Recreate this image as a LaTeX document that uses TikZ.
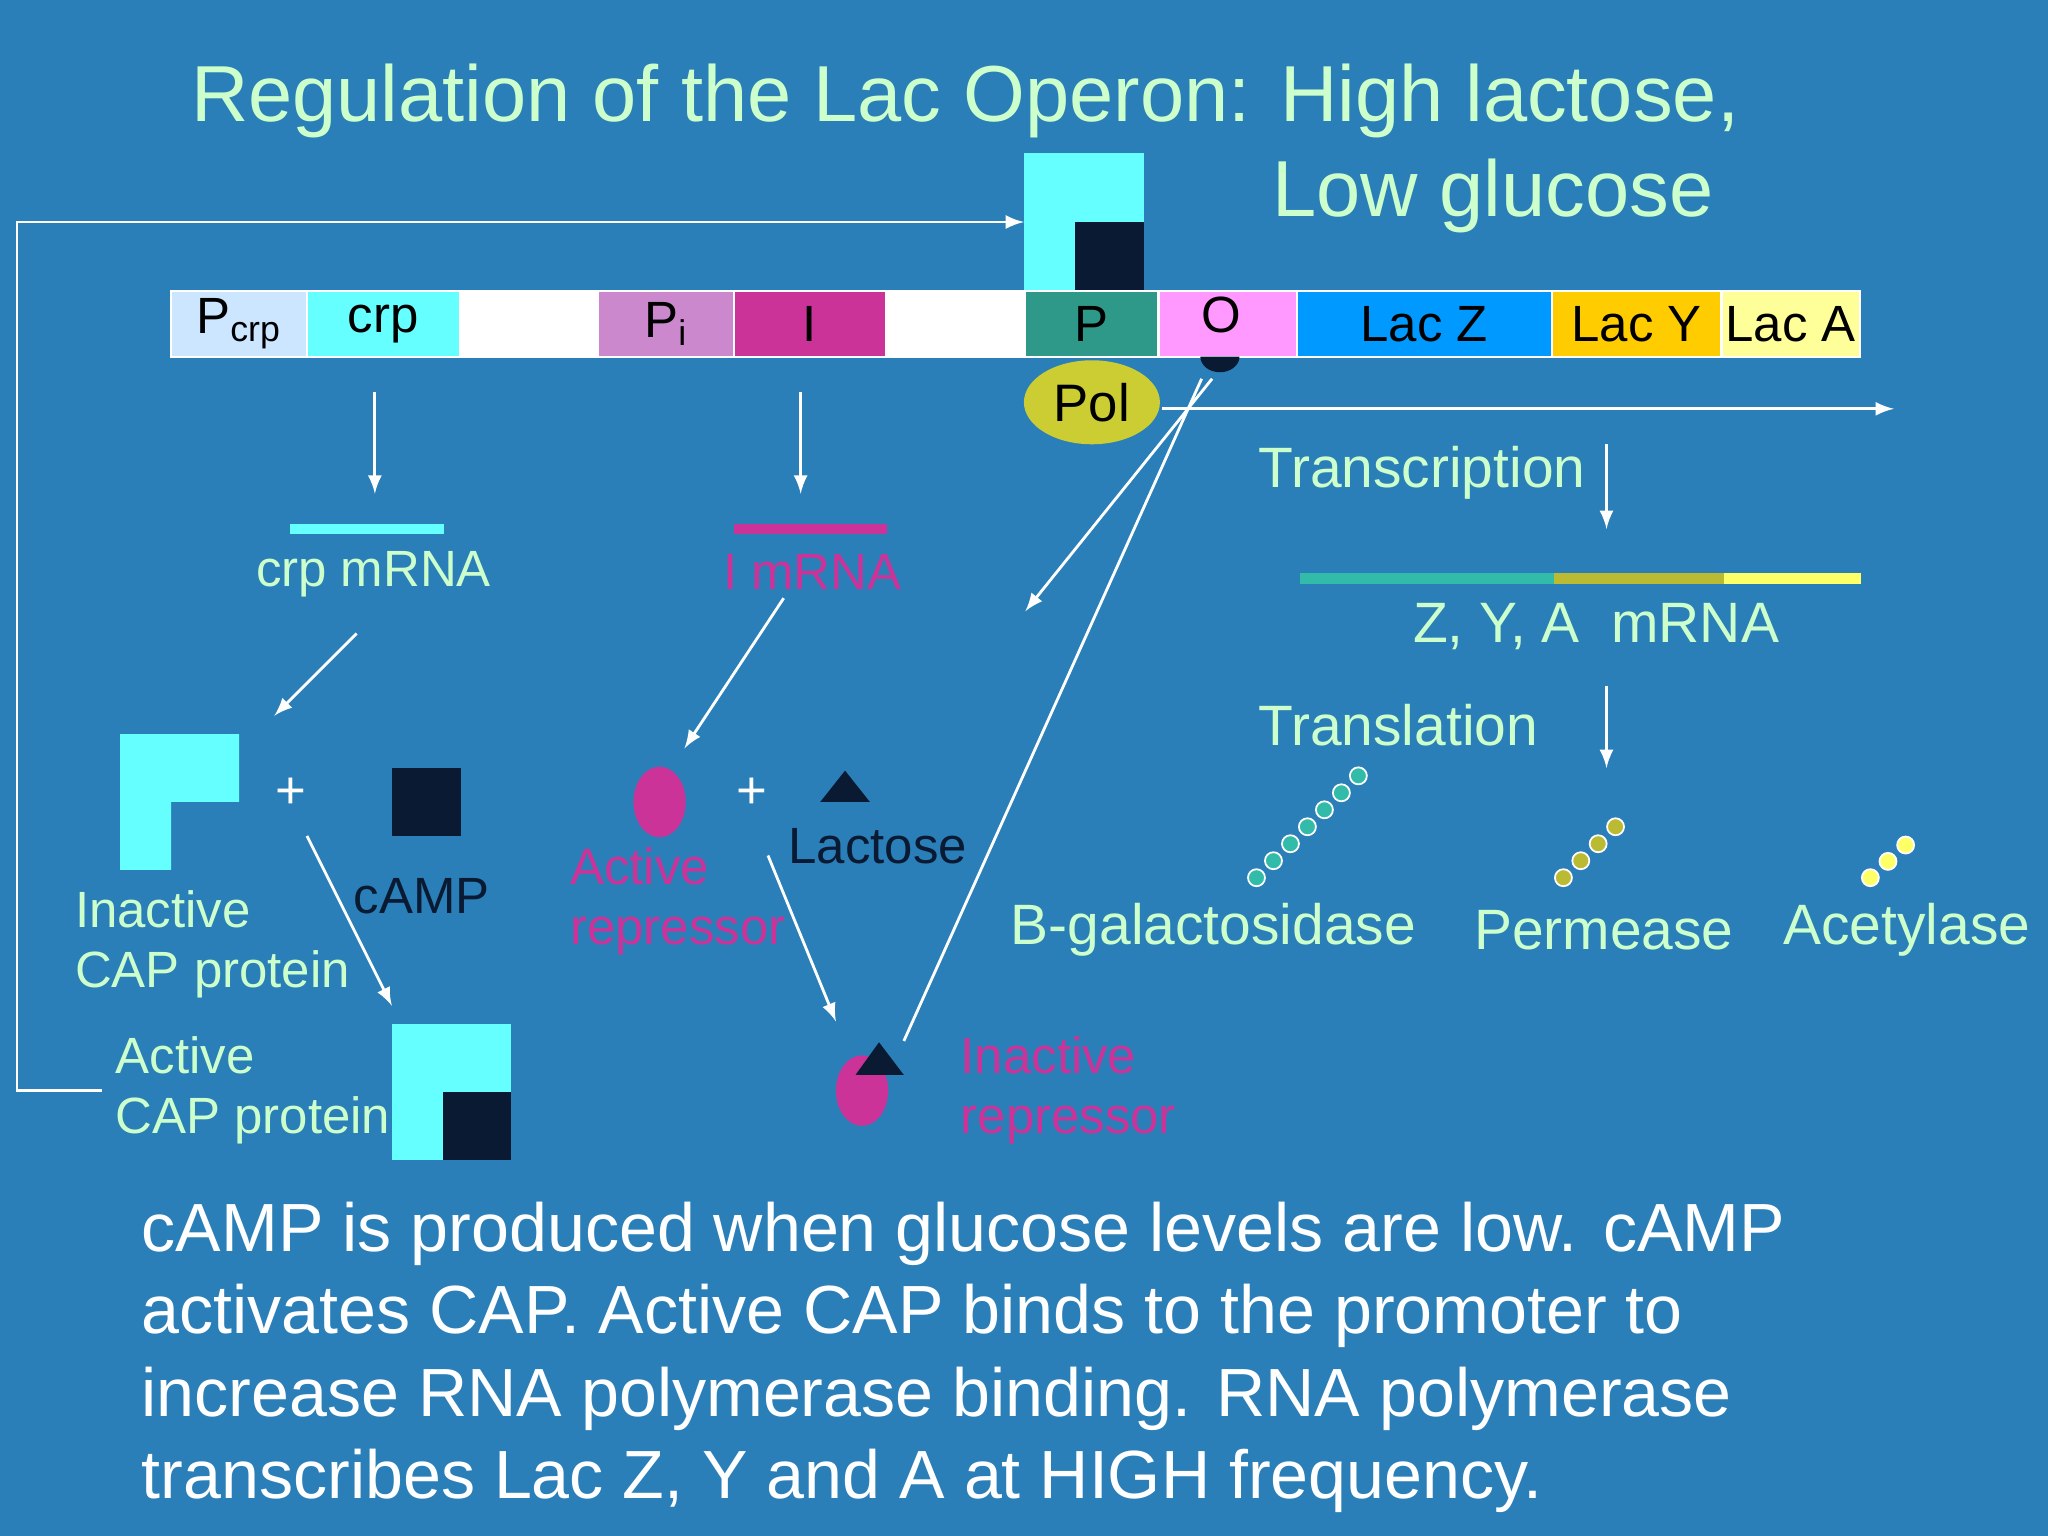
\documentclass[tikz,border=0pt]{standalone}
\usepackage{fontspec}
\setmainfont{Liberation Sans}
\usetikzlibrary{shapes.geometric}
\definecolor{bg}{HTML}{2A7FB8}
\definecolor{lg}{HTML}{CCFFCC}
\definecolor{mag}{HTML}{CC3399}
\definecolor{cy}{HTML}{66FFFF}
\definecolor{navy}{HTML}{0A1A33}
\definecolor{polc}{HTML}{CCCC33}
\definecolor{c1}{HTML}{CCE6FF}\definecolor{c2}{HTML}{CC88CC}\definecolor{c3}{HTML}{2E9988}
\definecolor{c4}{HTML}{FF99FF}\definecolor{c5}{HTML}{0099FF}\definecolor{c6}{HTML}{FFCC00}\definecolor{c7}{HTML}{FFFF99}
\definecolor{m1}{HTML}{33BBAA}\definecolor{m2}{HTML}{BBBB33}\definecolor{m3}{HTML}{FFFF66}
\begin{document}
\begin{tikzpicture}[x=0.013061cm,y=-0.013061cm,
  gene/.style={draw=white,line width=0.6pt,minimum height=0.666cm,inner sep=0,font=\fontsize{14.5}{16}\selectfont},
  grn/.style={text=lg,font=\fontsize{14.5}{17}\selectfont,inner sep=0,align=left},
  mg/.style={text=mag,font=\fontsize{14.5}{17}\selectfont,inner sep=0,align=left},
  dk/.style={text=navy,font=\fontsize{14.5}{17}\selectfont,inner sep=0},
  big/.style={font=\fontsize{16.2}{18}\selectfont},
  arr/.style={draw=white,line width=0.8pt,-latex},
  ln/.style={draw=white,line width=0.8pt},
  bar/.style={line width=0.105cm},
  bead/.style={circle,draw=white,line width=0.5pt,minimum size=0.17cm,inner sep=0}]
\fill[bg] (0,0) rectangle (1568,1176);
\useasboundingbox (0,0) rectangle (1568,1176);
% title
\node[text=lg,font=\fontsize{22.6}{26}\selectfont] (t1) at (739,77) {Regulation of the Lac Operon: High lactose,};
\node[text=lg,font=\fontsize{22.6}{26}\selectfont] (t2) at (1143,150) {Low glucose};
% gene bar
\newcommand\gb[5]{\node[gene,fill=#3,minimum width={(#2-#1)*0.013061cm}] (#4) at ({(#1+#2)/2},248) {\raisebox{-0.08cm}{#5}};}
\gb{131}{235}{c1}{pcrp}{P\textsubscript{crp}}
\gb{235}{352}{cy}{crp}{crp}
\gb{352}{458}{white}{w1}{}
\gb{458}{562}{c2}{pi}{P\textsubscript{i}}
\gb{562}{678}{mag}{ig}{I}
\gb{678}{785}{white}{w2}{}
\gb{785}{887}{c3}{pg}{P}
\gb{887}{993}{c4}{og}{}
\gb{993}{1188}{c5}{lz}{Lac Z}
\gb{1188}{1318}{c6}{ly}{Lac Y}
\gb{1318}{1424}{c7}{la}{Lac A}
\node[font=\fontsize{14.5}{16}\selectfont,inner sep=0] (olab) at (935,241) {O};
\fill[navy] (919,273) arc (180:0:15 and 12) -- cycle;
% CAP on promoter
\fill[cy] (784,117) rectangle (876,222);
\fill[navy] (823,170) rectangle (876,222);
\coordinate (capP) at (784,170);
% Pol
\node[ellipse,fill=polc,minimum width=1.36cm,minimum height=0.84cm,inner sep=0,font=\fontsize{15}{18}\selectfont] (pol) at (836,308) {Pol};
\coordinate (tx1) at (890,313); \coordinate (tx2) at (1450,313);
\draw[arr] (tx1) -- (tx2);
% feedback
\coordinate (fb0) at (78,835);
\draw[arr] (fb0) -- (13,835) -- (13,170) -- (capP);
% arrows down
\coordinate (a1) at (287,300); \coordinate (a2) at (287,378);
\coordinate (b1) at (613,300); \coordinate (b2) at (613,378);
\draw[arr] (a1) -- (a2); \draw[arr] (b1) -- (b2);
\draw[cy,bar] (222,405) -- (340,405);
\draw[mag,bar] (562,405) -- (679,405);
\node[grn] (crpm) at (286,440) {crp mRNA};
\node[mg] (im) at (622,438) {I mRNA};
\coordinate (c1a) at (273,485); \coordinate (c1b) at (210,548);
\draw[arr] (c1a) -- (c1b);
\coordinate (d1a) at (600,458); \coordinate (d1b) at (524,573);
\draw[arr] (d1a) -- (d1b);
% inactive CAP
\fill[cy] (92,562) -- (183,562) -- (183,614) -- (131,614) -- (131,666) -- (92,666) -- cycle;
\node[text=white,font=\fontsize{15}{18}\selectfont] (plus1) at (223,607) {+};
\fill[navy] (300,588) rectangle (353,640);
\node[dk] (camp) at (323,686) {cAMP};
\node[grn,anchor=west] (icap) at (57,723) {Inactive\\CAP protein};
\coordinate (e1) at (235,640); \coordinate (e2) at (300,770);
\draw[arr] (e1) -- (e2);
% active CAP
\fill[cy] (300,784) rectangle (391,888);
\fill[navy] (339,836) rectangle (391,888);
\node[grn,anchor=west] (acap) at (88,835) {Active\\CAP protein};
% repressor
\fill[mag] (505,614) ellipse (20 and 27);
\node[text=white,font=\fontsize{15}{18}\selectfont] (plus2) at (576,607) {+};
\fill[navy] (628,614) -- (666,614) -- (647,590) -- cycle;
\node[dk] (lac) at (672,648) {Lactose};
\node[mg,anchor=west] (arep) at (436,690) {Active\\repressor};
\coordinate (f1) at (588,655); \coordinate (f2) at (640,782);
\draw[arr] (f1) -- (f2);
\fill[mag] (660,835) ellipse (20 and 27);
\fill[navy] (655,823) -- (692,823) -- (673,798) -- cycle;
\node[mg,anchor=west] (irep) at (735,835) {Inactive\\repressor};
% lines from O
\coordinate (o1) at (928,290); \coordinate (o1e) at (785,468);
\coordinate (o2) at (920,290); \coordinate (o2e) at (692,797);
\draw[arr] (o1) -- (o1e);
\draw[ln] (o2) -- (o2e);
% transcription
\node[grn,big,anchor=west] (trs) at (963,362) {Transcription};
\coordinate (g1) at (1230,340); \coordinate (g2) at (1230,405);
\draw[arr] (g1) -- (g2);
\draw[bar,m1] (995,443) -- (1190,443);
\draw[bar,m2] (1190,443) -- (1320,443);
\draw[bar,m3] (1320,443) -- (1425,443);
\node[grn,big] (zya) at (1222,480) {Z, Y, A\ \ mRNA};
\node[grn,big,anchor=west] (trl) at (963,555) {Translation};
\coordinate (h1) at (1230,525); \coordinate (h2) at (1230,588);
\draw[arr] (h1) -- (h2);
% beads
\foreach \i in {0,...,6} \node[bead,fill=m1] (bg\i) at ({962+\i*13},{672-\i*13}) {};
\foreach \i in {0,...,3} \node[bead,fill=m2] (pm\i) at ({1197+\i*13.3},{672-\i*13}) {};
\foreach \i in {0,...,2} \node[bead,fill=m3] (ac\i) at ({1432+\i*13.5},{672-\i*12.5}) {};
\node[grn,big] (bgl) at (929,712) {B-galactosidase};
\node[grn,big] (pml) at (1228,712) {Permease};
\node[grn,big] (acl) at (1460,712) {Acetylase};
% bottom text
\node[text=white,anchor=north west,align=left,inner sep=0,font=\fontsize{19.4}{23.4}\selectfont] (txt) at (108,920)
 {cAMP is produced when glucose levels are low. cAMP\\activates CAP. Active CAP binds to the promoter to\\increase RNA polymerase binding. RNA polymerase\\transcribes Lac Z, Y and A at HIGH frequency.};
\end{tikzpicture}
\end{document}
